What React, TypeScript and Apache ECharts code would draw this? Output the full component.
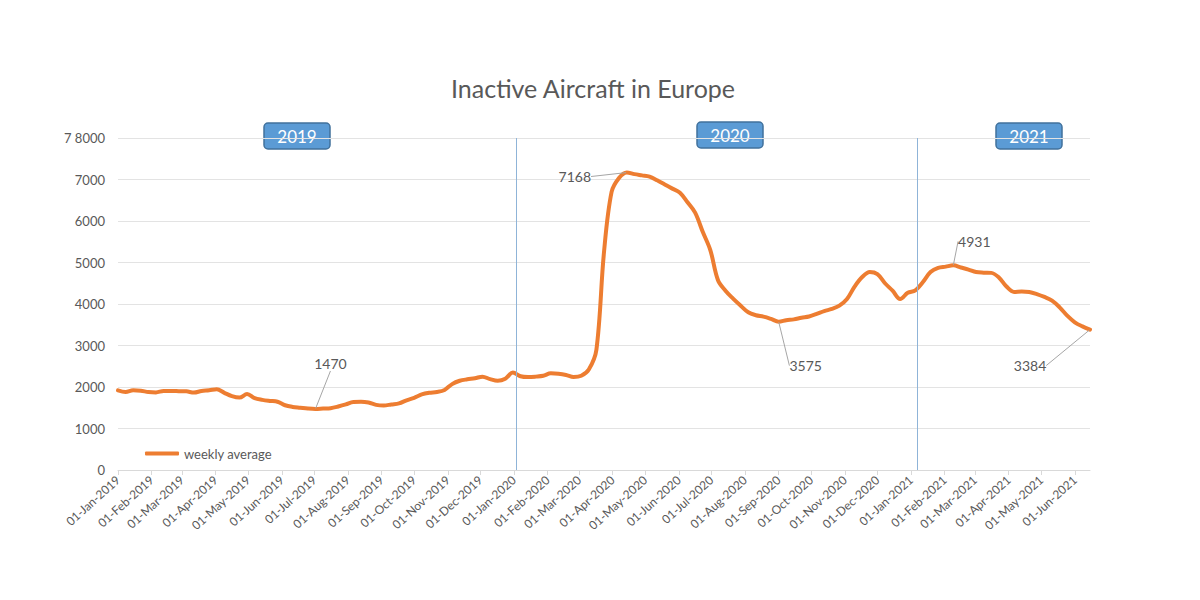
import React, { useEffect, useRef } from "react";
import * as echarts from "echarts";

// Weekly average of inactive aircraft, first week starting 01-Jan-2019
const firstWeek = [2019, 0, 1];
const inactive = [
  1920, 1880, 1920, 1910, 1880, 1870, 1905, 1905, 1900, 1895, 1865, 1905, 1920, 1945,
  1860, 1780, 1745, 1830, 1730, 1690, 1665, 1645, 1560, 1520, 1500, 1480, 1470, 1480,
  1490, 1530, 1580, 1640, 1645, 1625, 1570, 1555, 1580, 1605, 1680, 1740, 1820, 1860,
  1880, 1930, 2070, 2150, 2185, 2210, 2250, 2190, 2150, 2200, 2350, 2260,
  2240, 2250, 2270, 2330, 2320, 2290, 2240, 2270, 2420, 2900, 5250, 6700, 7040, 7168, 7130,
  7100, 7070, 6980, 6880, 6780, 6680, 6450, 6200, 5740, 5300, 4580, 4320, 4130, 3960,
  3800, 3730, 3695, 3640, 3575, 3610,
  3630, 3670, 3700, 3760, 3830, 3880, 3960, 4120, 4420, 4650, 4770, 4720, 4500, 4320,
  4120, 4270, 4330, 4530,
  4770, 4870, 4900, 4931, 4880, 4830, 4770, 4755, 4750, 4640, 4420, 4290, 4300, 4290,
  4240, 4170, 4080, 3920, 3720, 3560, 3460, 3384,
];

// Callouts: week index and label offset from the point (px)
const callouts = [
  { week: 26, dx: 15, dy: -45 },
  { week: 67, dx: -52, dy: 4 },
  { week: 87, dx: 27, dy: 44 },
  { week: 110, dx: 21, dy: -24 },
  { week: 128, dx: -60, dy: 36 },
];

// Year separators
const dividers = ["2020-01-03", "2021-01-07"];

// Year badges
const years = [
  { label: "2019", x: 264, y: 123 },
  { label: "2020", x: 697, y: 122 },
  { label: "2021", x: 996, y: 123 },
];

const yTicks = { min: 0, max: 8000, interval: 1000 };
const monthNames = ["Jan", "Feb", "Mar", "Apr", "May", "Jun", "Jul", "Aug", "Sep", "Oct", "Nov", "Dec"];

const FONT = "Lato, 'Open Sans', sans-serif";
const TEXT = "#595959";
const ORANGE = "#ED7D31";

function weekDate(i: number): number {
  return new Date(firstWeek[0], firstWeek[1], firstWeek[2] + 7 * i).getTime();
}

function fmtDate(v: number): string {
  const d = new Date(v);
  const dd = String(d.getDate()).padStart(2, "0");
  return `${dd}-${monthNames[d.getMonth()]}-${d.getFullYear()}`;
}

function parseDay(s: string): number {
  const [y, m, d] = s.split("-").map(Number);
  return new Date(y, m - 1, d).getTime();
}

export default function App() {
  const ref = useRef<HTMLDivElement>(null);

  useEffect(() => {
    if (!ref.current) return;
    const chart = echarts.init(ref.current, null, { renderer: "svg" });

    const calloutByIndex: Record<number, { dx: number; dy: number }> = {};
    callouts.forEach((c) => (calloutByIndex[c.week] = { dx: c.dx, dy: c.dy }));

    const data = inactive.map((v, i) => {
      const item: any = { value: [weekDate(i), v] };
      if (calloutByIndex[i]) {
        item.label = { show: true };
        item.labelLine = { show: true };
      }
      return item;
    });

    const graphics: any[] = years.map((y) => ({
      type: "group",
      x: y.x,
      y: y.y,
      children: [
        {
          type: "rect",
          shape: { x: 0, y: 0, width: 66, height: 26, r: 4 },
          style: { fill: "#5B9BD5", stroke: "#41719C", lineWidth: 1.5 },
        },
        {
          type: "text",
          x: 33,
          y: 13,
          style: {
            text: y.label,
            fill: "#ffffff",
            font: `17px ${FONT}`,
            align: "center",
            verticalAlign: "middle",
          },
        },
      ],
    }));

    chart.setOption({
      animation: false,
      backgroundColor: "#ffffff",
      title: {
        text: "Inactive Aircraft in Europe",
        left: 446,
        top: 70,
        textStyle: { fontFamily: FONT, fontSize: 25, fontWeight: "normal", color: TEXT },
      },
      legend: {
        left: 140,
        top: 442,
        icon: "roundRect",
        itemWidth: 34,
        itemHeight: 4,
        textStyle: { fontFamily: FONT, fontSize: 13, color: TEXT },
        data: ["weekly average"],
      },
      grid: { left: 118, right: 110, top: 138, bottom: 130, containLabel: false },
      xAxis: {
        type: "time",
        min: weekDate(0),
        max: weekDate(inactive.length - 1),
        minInterval: 28 * 86400000,
        maxInterval: 31 * 86400000,
        axisLine: { lineStyle: { color: "#d9d9d9", width: 1 } },
        axisTick: { show: true, length: 5, lineStyle: { color: "#d9d9d9" } },
        splitLine: { show: false },
        axisLabel: {
          rotate: 42,
          margin: 8,
          fontFamily: FONT,
          fontSize: 12,
          color: TEXT,
          hideOverlap: false,
          showMaxLabel: false,
          formatter: (v: number) => fmtDate(v),
        },
      },
      yAxis: {
        type: "value",
        min: yTicks.min,
        max: yTicks.max,
        interval: yTicks.interval,
        axisLine: { show: false },
        axisTick: { show: false },
        splitLine: { lineStyle: { color: "#e3e3e3", width: 1 } },
        axisLabel: {
          margin: 13,
          fontFamily: FONT,
          fontSize: 13,
          color: TEXT,
          formatter: (v: number) => (v === yTicks.max ? `7 ${v}` : String(v)),
        },
      },
      series: [
        {
          name: "weekly average",
          type: "line",
          data,
          smooth: 0.35,
          symbol: "circle",
          symbolSize: 1,
          showSymbol: true,
          showAllSymbol: true,
          itemStyle: { color: ORANGE },
          lineStyle: { color: ORANGE, width: 4, cap: "round", join: "round" },
          emphasis: { disabled: true },
          label: {
            show: false,
            position: "inside",
            fontFamily: FONT,
            fontSize: 14,
            color: TEXT,
            formatter: (p: any) => String(p.value[1]),
          },
          labelLine: { show: false, lineStyle: { color: "#a6a6a6", width: 1 } },
          labelLayout: (p: any) => {
            const c = calloutByIndex[p.dataIndex];
            return c ? { dx: c.dx, dy: c.dy } : {};
          },
          markLine: {
            silent: true,
            symbol: "none",
            label: { show: false },
            lineStyle: { color: "#8fb4d8", width: 1, type: "solid" },
            data: dividers.map((d) => ({ xAxis: parseDay(d) })),
          },
          z: 3,
        },
      ],
      graphic: graphics,
    });

    return () => chart.dispose();
  }, []);

  return (
    <div
      ref={ref}
      style={{ position: "fixed", left: 0, top: 0, width: 1200, height: 600, background: "#fff" }}
    />
  );
}
